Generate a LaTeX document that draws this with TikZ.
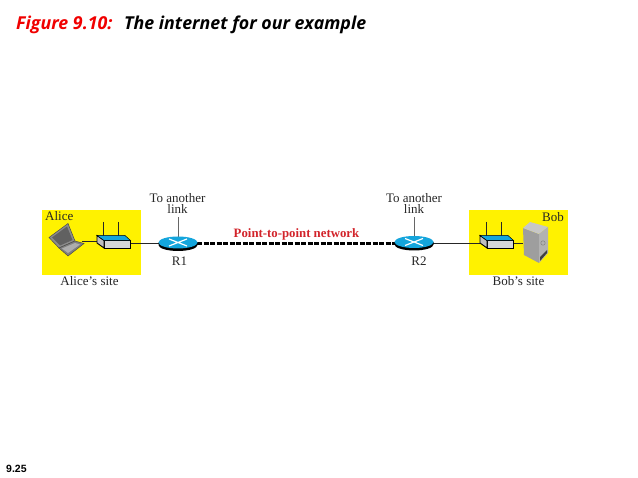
\documentclass[tikz,border=0pt]{standalone}
\usepackage{fontspec}
\setmainfont{Liberation Serif}
\newfontfamily\titlefont{Open Sans}
\newfontfamily\pagefont{Liberation Sans}
\definecolor{siteyellow}{HTML}{FFF200}
\definecolor{routerblue}{HTML}{14A5DC}
\definecolor{figred}{HTML}{F00000}
\definecolor{netred}{HTML}{D2232A}
\tikzset{
  x=1pt,y=-1pt,
  sitebox/.style={fill=siteyellow,draw=none,minimum width=99pt,minimum height=65pt,inner sep=0pt},
  lbl/.style={font=\fontsize{13}{11}\selectfont,text=black!85,inner sep=0pt,align=center},
  wire/.style={draw=black!85,line width=0.8pt},
  thick link/.style={draw=black,line width=3pt,dash pattern=on 5pt off 1.5pt}
}
\newcommand{\wifibox}[2]{%
  \begin{scope}[shift={(#1,#2)}]
    \draw[line width=0.8pt,black!85] (6,-13)--(6,1) (21,-13)--(21,1);
    \fill[black!16,draw=black,line width=0.9pt] (7,5.5)--(33.5,5.5)--(33.5,13)--(7,13)--cycle;
    \fill[black!25,draw=black,line width=0.9pt] (0,0.5)--(7,5.5)--(7,13)--(0,8)--cycle;
    \fill[routerblue,draw=black,line width=0.5pt] (0,0.5)--(28,0.5)--(33.5,5.5)--(7,5.5)--cycle;
  \end{scope}}
\newcommand{\routersym}[2]{%
  \begin{scope}[shift={(#1,#2)}]
    \fill[black] (-19.5,0)--(-19.5,2.5) arc[start angle=180,end angle=0,x radius=19.5,y radius=6]--(19.5,0)--cycle;
    \fill[routerblue] (0,0) ellipse[x radius=19.5,y radius=6];
    \draw[white,line width=1.2pt] (-9,-3.5)--(9,3.5) (-9,3.5)--(9,-3.5);
  \end{scope}}
\begin{document}
\begin{tikzpicture}
\useasboundingbox (0,0) rectangle (638,478);
\node[anchor=base west,inner sep=0pt,font=\titlefont\bfseries\itshape\fontsize{17.8}{20}\selectfont,text=figred] (title) at (16,30) {Figure 9.10:};
\node[anchor=base west,inner sep=0pt,font=\titlefont\bfseries\itshape\fontsize{17.8}{20}\selectfont] (titleb) at (124,30) {The internet for our example};
\node[anchor=base west,inner sep=0pt,font=\pagefont\bfseries\fontsize{10.5}{12}\selectfont] (page) at (6,473) {9.25};

\node[sitebox] (alicesite) at (91.5,242.5) {};
\node[sitebox] (bobsite) at (518.5,242.5) {};

% connectors
\coordinate (laptopport) at (82,241.5);
\coordinate (wifiAw) at (97,241.5);
\coordinate (wifiAe) at (130,243);
\coordinate (r1w) at (159,243);
\coordinate (r1e) at (197,244);
\coordinate (r2w) at (395,244);
\coordinate (r2e) at (433,243);
\coordinate (wifiBw) at (480,243);
\coordinate (wifiBe) at (513,243);
\coordinate (serverport) at (523,243);
\coordinate (r1up) at (178,237);
\coordinate (r1top) at (178,217);
\coordinate (r2up) at (414,237);
\coordinate (r2top) at (414,217);
\draw[wire] (laptopport)--(wifiAw);
\draw[wire] (wifiAe)--(r1w);
\draw[wire] (r2e)--(wifiBw);
\draw[wire] (wifiBe)--(serverport);
\draw[wire,black!60] (r1top)--(r1up);
\draw[wire,black!60] (r2top)--(r2up);
\draw[thick link] (r1e)--(r2w);

% laptop
\fill[black!45,draw=black!70,line width=0.5pt] (49,237.5)--(68,223.5)--(75,241)--(59,248)--cycle;
\fill[black!62] (52,237.5)--(67,226.5)--(72.5,240)--(60,245.5)--cycle;
\fill[black!50,draw=black!70,line width=0.5pt] (59,248)--(75,241)--(84,243.5)--(68,256)--cycle;
\fill[black!32] (62,248.5)--(75,243)--(80,244.5)--(68,253)--cycle;

\wifibox{97}{235}
\wifibox{480}{235}
\routersym{178}{242.5}
\routersym{414}{242}

% server
\fill[black!38] (523,228)--(539,234)--(539,263)--(524,255)--cycle;
\fill[black!22] (523,228)--(530,222)--(548,227)--(539,234)--cycle;
\fill[black!30] (539,234)--(548,227)--(548,253)--(539,263)--cycle;
\fill[black!75] (540,257)--(547,250)--(547,253)--(540,261)--cycle;
\draw[black!50,line width=0.5pt] (543,243) circle[radius=2.2];

% labels
\node[lbl,anchor=base west] (alice) at (45,221) {Alice};
\node[lbl,anchor=base east] (bob) at (564,222) {Bob};
\node[lbl,anchor=base] (alicecap) at (89.5,285.5) {Alice’s site};
\node[lbl,anchor=base] (bobcap) at (518.5,285.5) {Bob’s site};
\node[lbl,anchor=base] (r1) at (179.5,266) {R1};
\node[lbl,anchor=base] (r2) at (419,266) {R2};
\node[lbl] (toa) at (177.5,203.5) {To another\\link};
\node[lbl] (toc) at (414,203.5) {To another\\link};
\node[lbl,anchor=base,font=\bfseries\fontsize{12.8}{14}\selectfont,text=netred] (net) at (296.5,238) {Point-to-point network};
\end{tikzpicture}
\end{document}
